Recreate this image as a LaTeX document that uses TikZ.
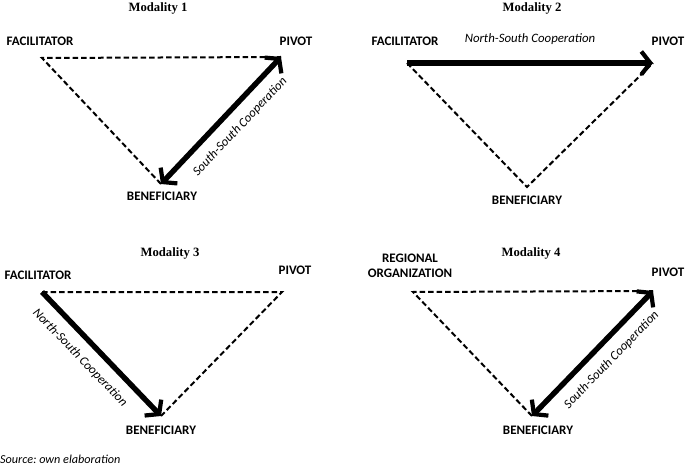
\documentclass[tikz,border=0pt]{standalone}
\usepackage{fontspec}
\setmainfont{Carlito}
\newfontfamily\titlefont{Liberation Serif}
\usetikzlibrary{arrows.meta}
\tikzset{
  modtitle/.style={font=\titlefont\bfseries\fontsize{12.7}{14}\selectfont},
  actor/.style={font=\bfseries\fontsize{13}{15}\selectfont, align=center, inner sep=0pt},
  coop/.style={font=\itshape\fontsize{12.8}{14}\selectfont, inner sep=0pt},
  dashedge/.style={line width=2pt, dash pattern=on 5.5pt off 3pt},
  barb/.tip={Straight Barb[length=9pt,width=23pt,line width=4.2pt]},
  flow/.style={line width=5.4pt, -barb},
  twoflow/.style={line width=5.4pt, barb-barb},
}
\begin{document}
\frenchspacing
\begin{tikzpicture}[x=1pt,y=-1pt]
\useasboundingbox (0,0) rectangle (685,470);

% ---------- Modality 1
\node[modtitle] (t1) at (158,8) {Modality 1};
\node[actor] (f1) at (40,41) {FACILITATOR};
\node[actor] (p1) at (296,41) {PIVOT};
\node[actor] (b1) at (162,196) {BENEFICIARY};
\coordinate (F1) at (42,58);
\coordinate (P1) at (281,57);
\coordinate (B1) at (161,184);
\draw[dashedge] (B1) -- (F1) -- (P1);
\draw[twoflow] (B1) -- (P1) node[coop, pos=0.55, sloped, below=10pt] {South-South Cooperation};

% ---------- Modality 2
\node[modtitle] (t2) at (532,8) {Modality 2};
\node[actor] (f2) at (405,41) {FACILITATOR};
\node[actor] (p2) at (668,41) {PIVOT};
\node[actor] (b2) at (527,200) {BENEFICIARY};
\coordinate (F2) at (407,63);
\coordinate (P2) at (653,63);
\coordinate (B2) at (527,187);
\draw[dashedge] (F2) -- (B2) -- (P2);
\draw[flow] (F2) -- (P2) node[coop, midway, above=16pt] {North-South Cooperation};

% ---------- Modality 3
\node[modtitle] (t3) at (170,253) {Modality 3};
\node[actor] (f3) at (38,275) {FACILITATOR};
\node[actor] (p3) at (295,270) {PIVOT};
\node[actor] (b3) at (161,430) {BENEFICIARY};
\coordinate (F3) at (42,292);
\coordinate (P3) at (282,292);
\coordinate (B3) at (161,416);
\draw[dashedge] (F3) -- (P3) -- (B3);
\draw[flow] (F3) -- (B3) node[coop, pos=0.43, sloped, below=10pt] {North-South Cooperation};

% ---------- Modality 4
\node[modtitle] (t4) at (531,253) {Modality 4};
\node[actor] (r4) at (410,266) {REGIONAL\\ORGANIZATION};
\node[actor] (p4) at (668,272) {PIVOT};
\node[actor] (b4) at (538,430) {BENEFICIARY};
\coordinate (R4) at (413,292);
\coordinate (P4) at (653,291);
\coordinate (B4) at (532,416);
\draw[dashedge] (B4) -- (R4) -- (P4);
\draw[twoflow] (B4) -- (P4) node[coop, pos=0.55, sloped, below=10pt] {South-South Cooperation};

% ---------- Source
\node[coop, anchor=west, font=\itshape\fontsize{12.2}{14}\selectfont] (src) at (0,459) {Source: own elaboration};
\end{tikzpicture}
\end{document}
